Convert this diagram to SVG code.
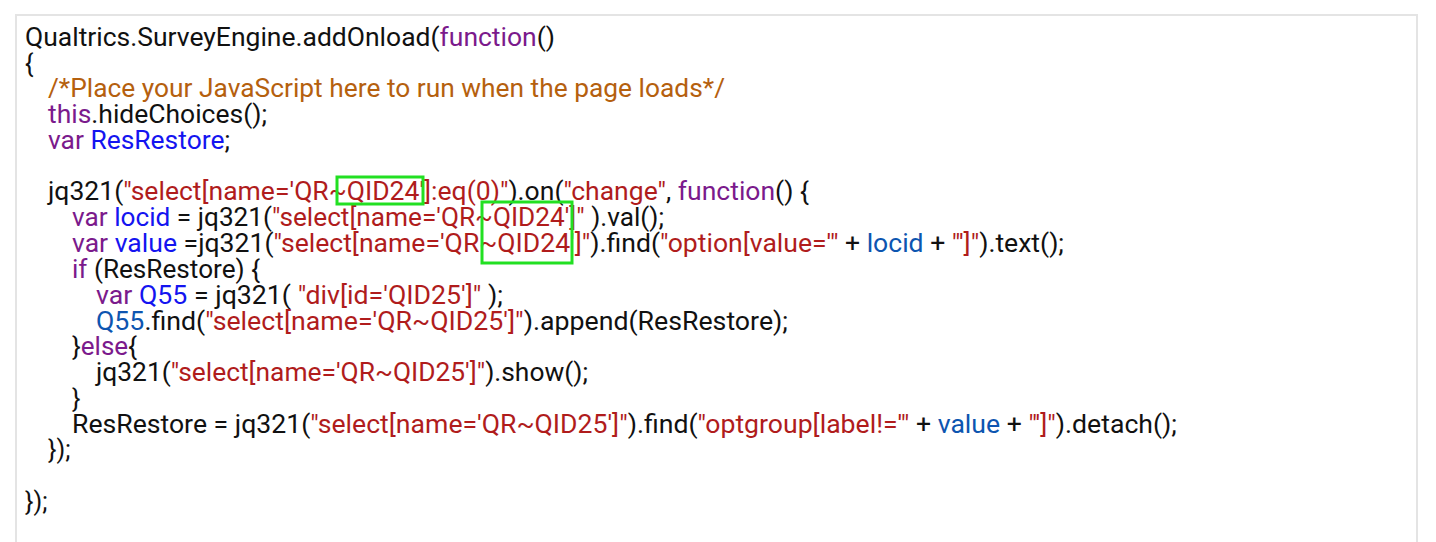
<svg xmlns="http://www.w3.org/2000/svg" width="1436" height="542" viewBox="0 0 1436 542">
<style>
text{font-family:Roboto,"Liberation Sans",sans-serif;font-size:25px;fill:#111;white-space:pre}
.k{fill:#7b1a8c}.v{fill:#1414f0}.u{fill:#0d55b0}.s{fill:#b01c1c}.c{fill:#b5600e}
.hl{fill:none;stroke:#22e022;stroke-width:3}
</style>
<rect x="0" y="0" width="1436" height="542" fill="#fff"/>
<rect x="16" y="15" width="1401" height="540" fill="#fff" stroke="#e4e4e4" stroke-width="2"/>
<g id="code" xml:space="preserve">
<text x="25" y="46" textLength="530" lengthAdjust="spacingAndGlyphs">Qualtrics.SurveyEngine.addOnload(<tspan class="k">function</tspan>()</text>
<text x="25" y="72">{</text>
<text x="48" y="97" class="c" textLength="677" lengthAdjust="spacingAndGlyphs">/*Place your JavaScript here to run when the page loads*/</text>
<text x="48" y="123" textLength="219" lengthAdjust="spacingAndGlyphs"><tspan class="k">this</tspan>.hideChoices();</text>
<text x="48" y="149" textLength="182" lengthAdjust="spacingAndGlyphs"><tspan class="k">var</tspan> <tspan class="v">ResRestore</tspan>;</text>
<text x="48" y="200" textLength="761" lengthAdjust="spacingAndGlyphs">jq321(<tspan class="s">"select[name='QR~QID24']:eq(0)"</tspan>).on(<tspan class="s">"change"</tspan>, <tspan class="k">function</tspan>() {</text>
<text x="72" y="226" textLength="592" lengthAdjust="spacingAndGlyphs"><tspan class="k">var</tspan> <tspan class="v">locid</tspan> = jq321(<tspan class="s">"select[name='QR~QID24']"</tspan> ).val();</text>
<text x="72" y="252" textLength="992" lengthAdjust="spacingAndGlyphs"><tspan class="k">var</tspan> <tspan class="v">value</tspan> =jq321(<tspan class="s">"select[name='QR~QID24']"</tspan>).find(<tspan class="s">"option[value='"</tspan> + <tspan class="u">locid</tspan> + <tspan class="s">"']"</tspan>).text();</text>
<text x="72" y="278" textLength="188" lengthAdjust="spacingAndGlyphs"><tspan class="k">if</tspan> (ResRestore) {</text>
<text x="96" y="304" textLength="407" lengthAdjust="spacingAndGlyphs"><tspan class="k">var</tspan> <tspan class="v">Q55</tspan> = jq321( <tspan class="s">"div[id='QID25']"</tspan> );</text>
<text x="96" y="330" textLength="692" lengthAdjust="spacingAndGlyphs"><tspan class="u">Q55</tspan>.find(<tspan class="s">"select[name='QR~QID25']"</tspan>).append(ResRestore);</text>
<text x="72" y="355" textLength="65" lengthAdjust="spacingAndGlyphs">}<tspan class="k">else</tspan>{</text>
<text x="96" y="381" textLength="492" lengthAdjust="spacingAndGlyphs">jq321(<tspan class="s">"select[name='QR~QID25']"</tspan>).show();</text>
<text x="72" y="407">}</text>
<text x="72" y="433" textLength="1105" lengthAdjust="spacingAndGlyphs">ResRestore = jq321(<tspan class="s">"select[name='QR~QID25']"</tspan>).find(<tspan class="s">"optgroup[label!='"</tspan> + <tspan class="u">value</tspan> + <tspan class="s">"']"</tspan>).detach();</text>
<text x="48" y="458">});</text>
<text x="25" y="510">});</text>
</g>
<g id="highlights">
<rect class="hl" x="337" y="177" width="86" height="27"/>
<rect class="hl" x="482" y="202" width="90" height="61"/>
</g>
</svg>
